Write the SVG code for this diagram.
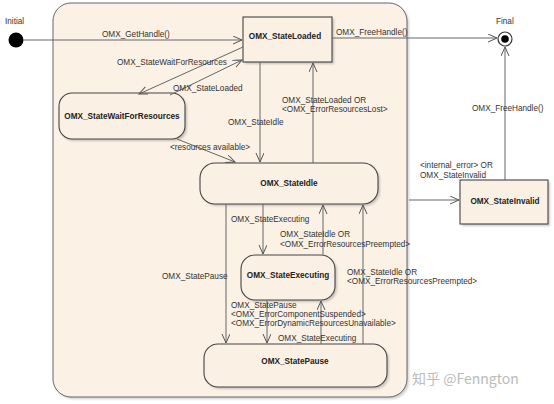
<svg xmlns="http://www.w3.org/2000/svg" width="554" height="404" viewBox="0 0 554 404">
<defs>
<marker id="arr" markerUnits="userSpaceOnUse" markerWidth="12" markerHeight="10" refX="9" refY="4" orient="auto">
<path d="M0,0 L9,4 L0,8" fill="none" stroke="#555" stroke-width="1"/>
</marker>
<filter id="blur" x="-10%" y="-10%" width="120%" height="120%">
<feGaussianBlur stdDeviation="1"/>
</filter>
</defs>
<style>
.lbl{font-family:"Liberation Sans",Arial,sans-serif;font-size:8.2px;fill:#333}
.nd{font-family:"Liberation Sans",Arial,sans-serif;font-size:8.2px;font-weight:bold;fill:#222;text-anchor:middle}
.box{fill:#faf0e4;stroke:#444;stroke-width:1.1}
.sh{fill:#888;opacity:0.45;filter:url(#blur)}
.cn{fill:none;stroke:#666;stroke-width:1;marker-end:url(#arr)}
</style>
<rect width="554" height="404" fill="#fff"/>
<g id="container">
<rect x="55" y="5" width="354" height="394" rx="18" fill="#888" opacity="0.4" filter="url(#blur)"/>
<rect x="53" y="3" width="354" height="394" rx="18" fill="#fbf1e5" stroke="#666" stroke-width="1"/>
</g>
<g id="initial">
<circle cx="16" cy="40" r="7.5" fill="#000"/>
<text class="lbl" x="5" y="24">Initial</text>
</g>
<g id="final">
<circle cx="505" cy="39" r="7" fill="#fff" stroke="#333" stroke-width="1.2"/>
<circle cx="505" cy="39" r="3.8" fill="#000"/>
<text class="lbl" x="496" y="24">Final</text>
</g>
<g id="loaded">
<rect class="sh" x="245" y="19" width="89" height="45"/>
<rect class="box" x="243" y="17" width="89" height="45"/>
<text class="nd" x="285" y="39">OMX_StateLoaded</text>
</g>
<g id="waitforresources">
<rect class="sh" x="61" y="95" width="126" height="46" rx="13"/>
<rect class="box" x="59" y="93" width="126" height="46" rx="13"/>
<text class="nd" x="122" y="119">OMX_StateWaitForResources</text>
</g>
<g id="idle">
<rect class="sh" x="202" y="165" width="178" height="41" rx="15"/>
<rect class="box" x="200" y="163" width="178" height="41" rx="15"/>
<text class="nd" x="289" y="186">OMX_StateIdle</text>
</g>
<g id="invalid">
<rect class="sh" x="462" y="182" width="88" height="44"/>
<rect class="box" x="460" y="180" width="88" height="44"/>
<text class="nd" x="505" y="204">OMX_StateInvalid</text>
</g>
<g id="executing">
<rect class="sh" x="243" y="257" width="94" height="45" rx="14"/>
<rect class="box" x="241" y="255" width="94" height="45" rx="14"/>
<text class="nd" x="288" y="278">OMX_StateExecuting</text>
</g>
<g id="pause">
<rect class="sh" x="206" y="346" width="183" height="43" rx="14"/>
<rect class="box" x="204" y="344" width="183" height="43" rx="14"/>
<text class="nd" x="295" y="364">OMX_StatePause</text>
</g>
<g id="connectors">
<line class="cn" x1="23" y1="40" x2="242" y2="40"/>
<line class="cn" x1="332" y1="38" x2="497" y2="38"/>
<line class="cn" x1="243" y1="47" x2="139" y2="94"/>
<line class="cn" x1="170" y1="95" x2="242" y2="60"/>
<line class="cn" x1="260" y1="62" x2="260" y2="162"/>
<line class="cn" x1="313" y1="163" x2="313" y2="63"/>
<line class="cn" x1="177" y1="139" x2="235" y2="162"/>
<line class="cn" x1="409" y1="200" x2="459" y2="200"/>
<line class="cn" x1="505" y1="180" x2="505" y2="47"/>
<line class="cn" x1="263" y1="204" x2="263" y2="254"/>
<line class="cn" x1="323" y1="255" x2="323" y2="205"/>
<line class="cn" x1="363" y1="344" x2="363" y2="205"/>
<line class="cn" x1="226" y1="204" x2="226" y2="343"/>
<line class="cn" x1="267" y1="300" x2="267" y2="343"/>
<line class="cn" x1="321" y1="344" x2="321" y2="301"/>
</g>
<g id="labels">
<text class="lbl" x="102" y="37">OMX_GetHandle()</text>
<text class="lbl" x="336" y="35">OMX_FreeHandle()</text>
<text class="lbl" x="117" y="65">OMX_StateWaitForResources</text>
<text class="lbl" x="173" y="91">OMX_StateLoaded</text>
<text class="lbl" x="228" y="125">OMX_StateIdle</text>
<text class="lbl" x="282" y="103">OMX_StateLoaded OR</text>
<text class="lbl" x="282" y="112">&lt;OMX_ErrorResourcesLost&gt;</text>
<text class="lbl" x="472" y="111">OMX_FreeHandle()</text>
<text class="lbl" x="170" y="150">&lt;resources available&gt;</text>
<text class="lbl" x="420" y="168">&lt;internal_error&gt; OR</text>
<text class="lbl" x="420" y="178">OMX_StateInvalid</text>
<text class="lbl" x="231" y="222">OMX_StateExecuting</text>
<text class="lbl" x="280" y="237">OMX_StateIdle OR</text>
<text class="lbl" x="280" y="247">&lt;OMX_ErrorResourcesPreempted&gt;</text>
<text class="lbl" x="162" y="279">OMX_StatePause</text>
<text class="lbl" x="347" y="275">OMX_StateIdle OR</text>
<text class="lbl" x="347" y="284">&lt;OMX_ErrorResourcesPreempted&gt;</text>
<text class="lbl" x="231" y="308">OMX_StatePause</text>
<text class="lbl" x="231" y="317">&lt;OMX_ErrorComponentSuspended&gt;</text>
<text class="lbl" x="231" y="326">&lt;OMX_ErrorDynamicResourcesUnavailable&gt;</text>
<text class="lbl" x="278" y="341">OMX_StateExecuting</text>
</g>
<text x="412" y="384" font-family="'Noto Sans CJK SC','Liberation Sans',sans-serif" font-size="14" fill="#bbb">知乎 @Fenngton</text>
</svg>
